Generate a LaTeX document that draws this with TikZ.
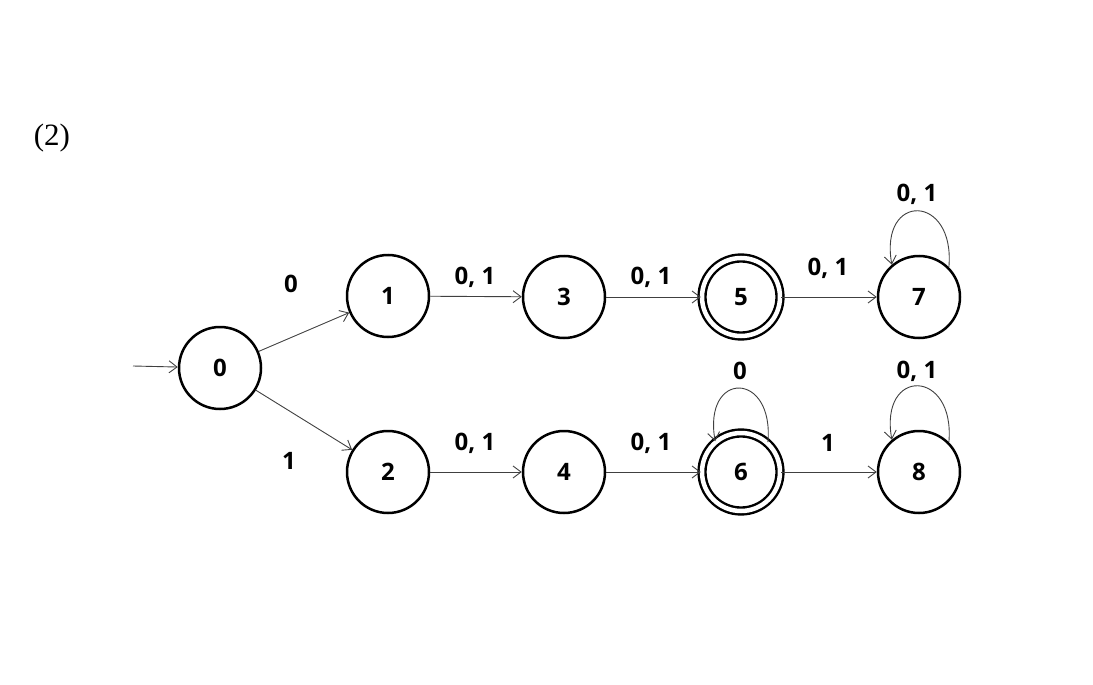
\documentclass[tikz,border=0pt]{standalone}
\usepackage{fontspec}
\setmainfont{Liberation Serif}
\newfontfamily\lblfont{Open Sans}
\usetikzlibrary{arrows.meta}
\begin{document}
\begin{tikzpicture}[x=1pt,y=1pt,
  state/.style={circle,draw=black,line width=2.5pt,minimum size=82pt,inner sep=0pt,font=\lblfont\bfseries\fontsize{24}{28}\selectfont},
  accept/.style={state,double=white,double distance=4.5pt,line width=2.4pt,minimum size=78pt},
  arr/.style={draw=black!75,line width=0.9pt,-{Straight Barb[length=8pt,width=12pt,line width=0.9pt]}},
  lbl/.style={font=\lblfont\bfseries\fontsize{24}{28}\selectfont,inner sep=0pt}]
\useasboundingbox (0,0) rectangle (1093,-685);
\node[font=\fontsize{31}{35}\selectfont] (title) at (52,-138) {(2)};
\node[state] (s0) at (220,-368) {0};
\node[state] (s1) at (388,-296) {1};
\node[state] (s3) at (564,-297) {3};
\node[accept] (s5) at (741,-297) {5};
\node[state] (s7) at (919,-297) {7};
\node[state] (s2) at (388,-472) {2};
\node[state] (s4) at (564,-472) {4};
\node[accept] (s6) at (741,-472) {6};
\node[state] (s8) at (919,-472) {8};
\coordinate (start) at (133,-366);
\draw[arr] (start) -- (s0);
\draw[arr] (s0) -- (s1);
\draw[arr] (s0) -- (s2);
\draw[arr] (s1) -- (s3);
\draw[arr] (s3) -- (s5);
\draw[arr] (s5) -- (s7);
\draw[arr] (s2) -- (s4);
\draw[arr] (s4) -- (s6);
\draw[arr] (s6) -- (s8);
\draw[arr] (s7.45) .. controls +(85:74) and +(100:74) .. (s7.130);
\draw[arr] (s8.45) .. controls +(85:74) and +(100:74) .. (s8.130);
\draw[arr] (s6.48) .. controls +(85:72) and +(100:72) .. (s6.130);
\node[lbl] (l01) at (291,-284) {0};
\node[lbl] (l02) at (289,-461) {1};
\node[lbl] (l13) at (475,-277) {0, 1};
\node[lbl] (l35) at (651,-277) {0, 1};
\node[lbl] (l57) at (828,-268) {0, 1};
\node[lbl] (l24) at (475,-443) {0, 1};
\node[lbl] (l46) at (651,-443) {0, 1};
\node[lbl] (l68) at (828,-443) {1};
\node[lbl] (l77) at (917,-194) {0, 1};
\node[lbl] (l66) at (740,-371) {0};
\node[lbl] (l88) at (917,-371) {0, 1};
\end{tikzpicture}
\end{document}
